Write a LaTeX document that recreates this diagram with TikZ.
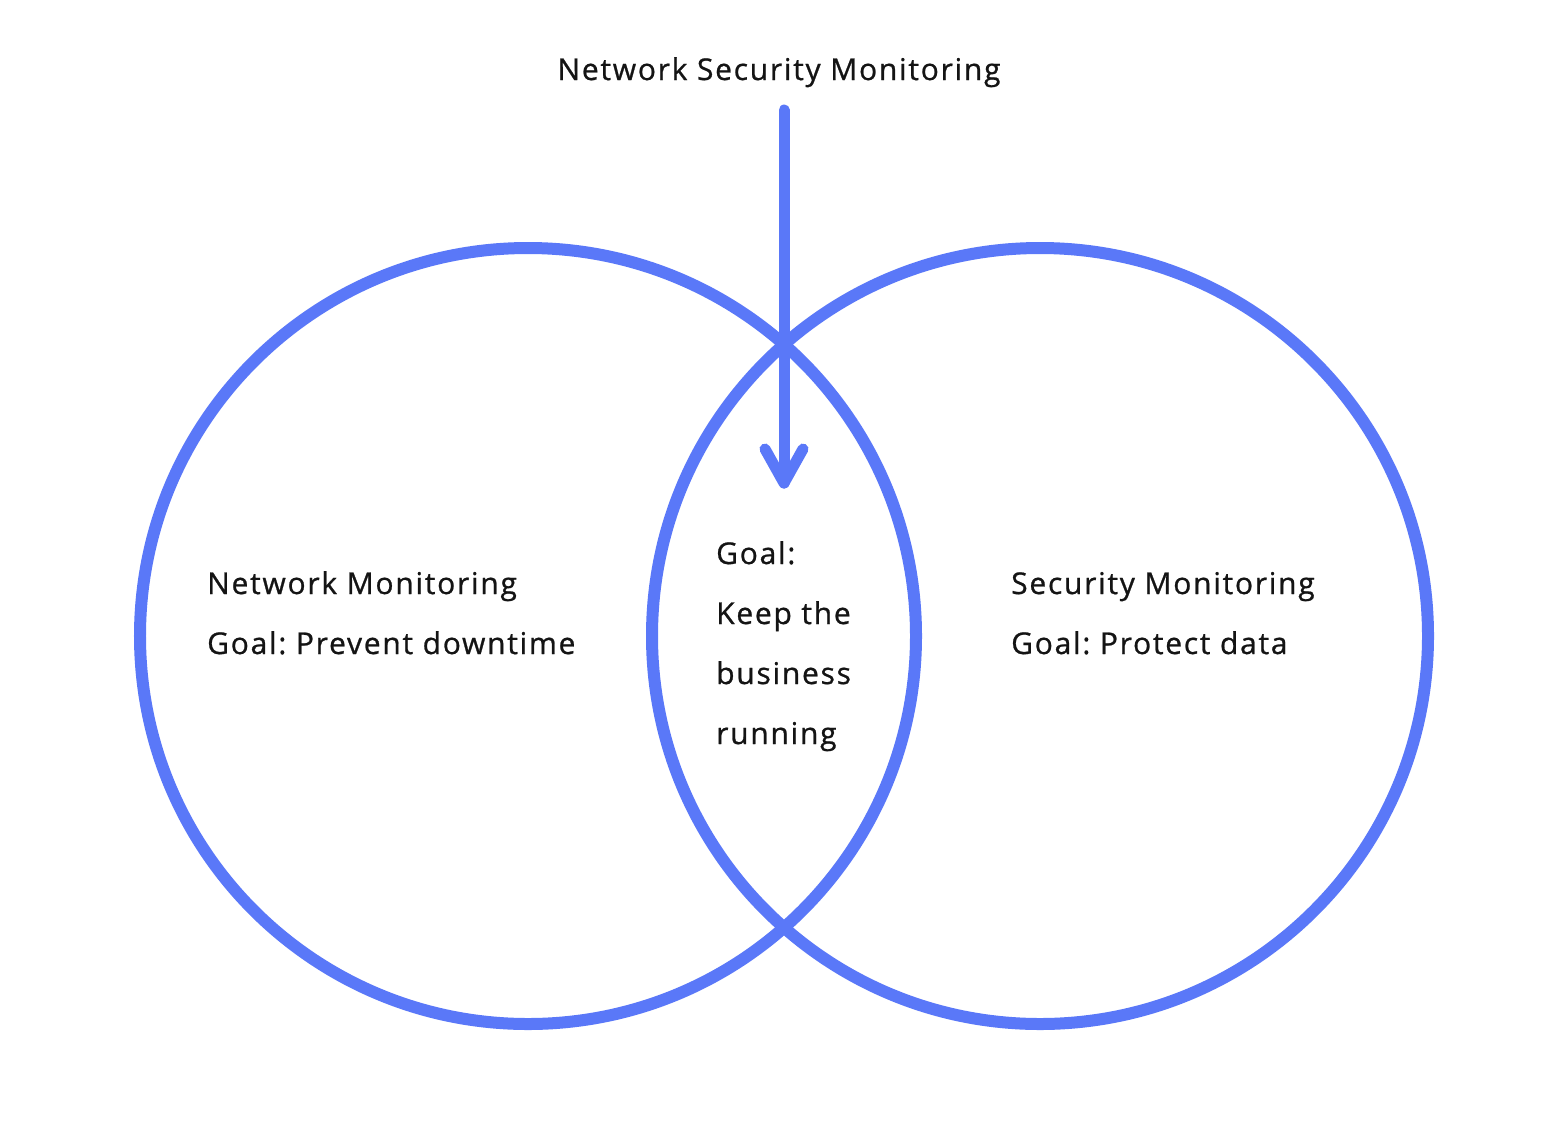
\documentclass[tikz,border=0pt]{standalone}
\usepackage{fontspec}
\setmainfont{Open Sans}[LetterSpace=5.8,FakeBold=0.8]
\frenchspacing
\definecolor{vblue}{RGB}{90,120,248}
\definecolor{vtext}{RGB}{20,20,20}
\begin{document}
\begin{tikzpicture}[x=1bp,y=-1bp,
  ring/.style={draw=vblue,line width=12bp},
  lbl/.style={inner sep=0pt,anchor=base west,text=vtext,font=\fontsize{30bp}{36bp}\selectfont},
  arrowline/.style={draw=vblue,line width=11bp,line cap=round,line join=round}]
\useasboundingbox (0,0) rectangle (1560,1129);
\fill[white] (0,0) rectangle (1560,1129);
\node[ring,circle,minimum size=776bp,inner sep=0pt] (L) at (528,636) {};
\node[ring,circle,minimum size=776bp,inner sep=0pt] (R) at (1040,636) {};
\node[lbl,anchor=base] (title) at (779,80) {Network Security Monitoring};
\coordinate (start) at (784,110);
\coordinate (tip) at (784,483);
\coordinate (la) at (765,449);
\coordinate (ra) at (803,449);
\draw[arrowline] (start) -- (tip);
\draw[arrowline] (la) -- (tip) -- (ra);
\node[lbl] (nm) at (207,594) {Network Monitoring};
\node[lbl] (nmg) at (207,654) {Goal: Prevent downtime};
\node[lbl] (c1) at (716,564) {Goal:};
\node[lbl] (c2) at (716,624) {Keep the};
\node[lbl] (c3) at (716,684) {business};
\node[lbl] (c4) at (716,744) {running};
\node[lbl] (sm) at (1011,594) {Security Monitoring};
\node[lbl] (smg) at (1011,654) {Goal: Protect data};
\end{tikzpicture}
\end{document}
